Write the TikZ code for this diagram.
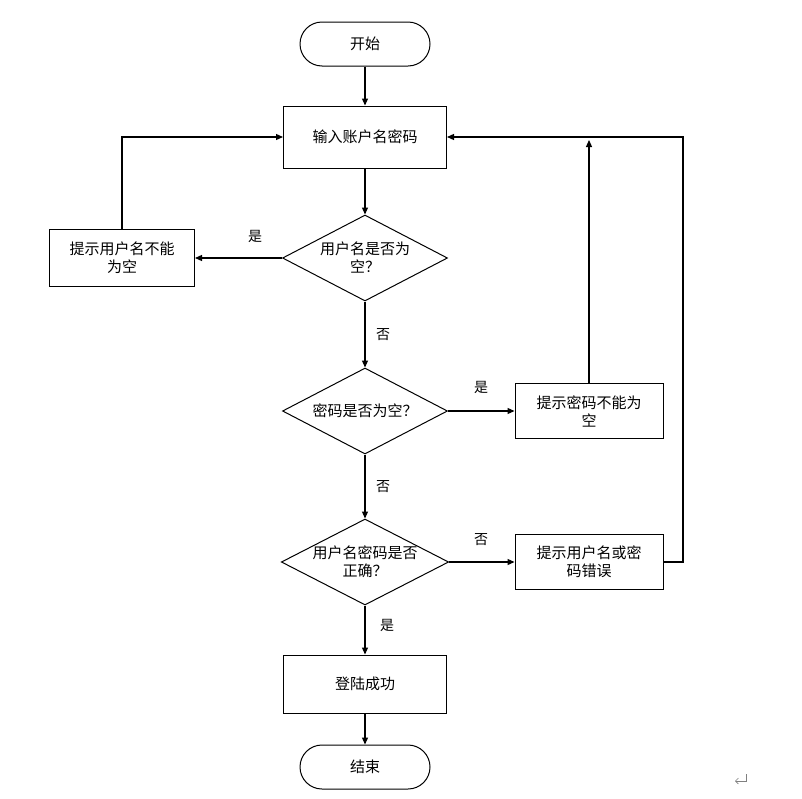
\documentclass[tikz,border=0pt]{standalone}
\usepackage{fontspec}
\setmainfont{Noto Sans CJK SC}
\usetikzlibrary{shapes.geometric,arrows.meta}
\begin{document}
\begin{tikzpicture}[x=1pt,y=-1pt,
  every node/.style={font=\fontsize{15}{18}\selectfont},
  box/.style={draw,line width=1pt,minimum width=#1,align=center,inner sep=2pt},
  pill/.style={draw,line width=1pt,rounded corners=22pt,minimum width=130pt,minimum height=44pt},
  dia/.style={draw,line width=1pt,diamond,aspect=1.95,minimum width=165pt,minimum height=86pt,inner sep=0pt,align=center},
  arr/.style={line width=1.2pt,-{Triangle[length=7pt,width=6pt]}},
  lbl/.style={font=\fontsize{14}{16}\selectfont}]
\useasboundingbox (0,0) rectangle (802,798);
\node[pill] (start) at (365,44) {开始};
\node[box=163pt,minimum height=62pt] (input) at (365,137) {输入账户名密码};
\node[dia] (d1) at (365,258) {用户名是否为\\空？};
\node[box=145pt,minimum height=57pt] (e1) at (122,258) {提示用户名不能\\为空};
\node[dia] (d2) at (365,411) {密码是否为空？};
\node[box=148pt,minimum height=55pt] (e2) at (589,411) {提示密码不能为\\空};
\node[dia] (d3) at (365,562) {用户名密码是否\\正确？};
\node[box=148pt,minimum height=55pt] (e3) at (589,562) {提示用户名或密\\码错误};
\node[box=163pt,minimum height=58pt] (ok) at (365,684) {登陆成功};
\node[pill] (end) at (365,767) {结束};
\draw[gray,line width=0.6pt,-{Straight Barb[length=3pt]}] (746,774) -- (746,781) -- (735,781);
\draw[arr] (start) -- (input);
\draw[arr] (input) -- (d1);
\draw[arr] (d1) -- (e1);
\draw[arr] (d1) -- (d2);
\draw[arr] (d2) -- (e2);
\draw[arr] (d2) -- (d3);
\draw[arr] (d3) -- (e3);
\draw[arr] (d3) -- (ok);
\draw[arr] (ok) -- (end);
\draw[arr] (e1.north) |- (input.west);
\coordinate (up) at (589,140);
\draw[arr] (e2.north) -- (up);
\draw[arr] (e3.east) -| (683,137) -- (input.east);
\node[lbl] at (255,236) {是};
\node[lbl] at (383,335) {否};
\node[lbl] at (481,387) {是};
\node[lbl] at (383,487) {否};
\node[lbl] at (481,540) {否};
\node[lbl] at (387,625) {是};
\end{tikzpicture}
\end{document}
